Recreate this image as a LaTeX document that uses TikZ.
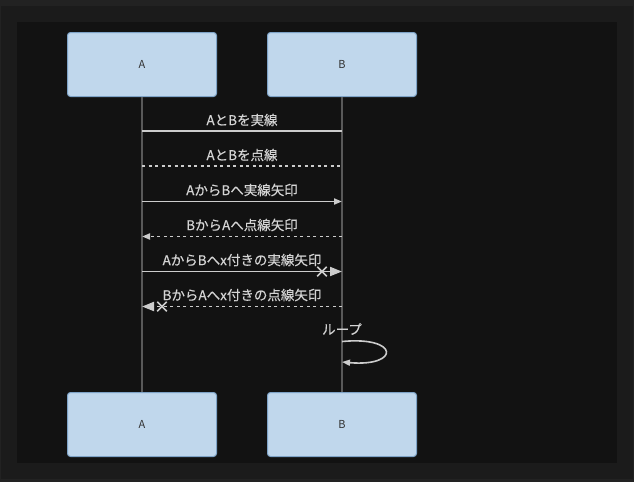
\documentclass[tikz,border=0pt]{standalone}
\usepackage{fontspec}
\setmainfont{Noto Sans CJK JP}
\newfontfamily\lblfont[FakeBold=0.35]{Noto Sans CJK JP}
\usetikzlibrary{arrows.meta,shapes.misc}
\definecolor{outerbg}{HTML}{222222}
\definecolor{panelbg}{HTML}{1B1B1B}
\definecolor{innerbg}{HTML}{121212}
\definecolor{boxfill}{HTML}{C0D7EC}
\definecolor{boxdraw}{HTML}{7EA3C7}
\definecolor{lifecol}{HTML}{595959}
\definecolor{msgcol}{HTML}{CCCCCC}
\definecolor{txtcol}{HTML}{D4D4D4}
\tikzset{
  actor/.style={draw=boxdraw, line width=1pt, fill=boxfill, rounded corners=3pt,
    minimum width=149pt, minimum height=64pt, inner sep=0pt,
    font=\fontsize{11}{13}\selectfont, text=black!80},
  lifeline/.style={draw=lifecol, line width=1.4pt},
  msg/.style={draw=msgcol, line width=1.8pt},
  dotmsg/.style={msg, dash pattern=on 3pt off 3.5pt},
  tipsmall/.style={-{Triangle[length=8pt,width=6pt]}},
  tipbig/.style={-{Triangle[length=12pt,width=9pt]}},
  msglabel/.style={text=txtcol, font=\lblfont\fontsize{13.5}{15}\selectfont, inner sep=0pt},
  crossmark/.style={cross out, draw=msgcol, line width=1.5pt, minimum size=8pt, inner sep=0pt},
}
\begin{document}
\begin{tikzpicture}[x=1pt,y=-1pt]
\useasboundingbox (0,0) rectangle (634,482);
\fill[outerbg] (0,0) rectangle (634,482);
\fill[panelbg] (1,6) rectangle (633,479);
\fill[innerbg] (17,22) rectangle (617,463);

\node[actor] (At) at (142,64.5) {A};
\node[actor] (Bt) at (342,64.5) {B};
\node[actor] (Ab) at (142,424.5) {A};
\node[actor] (Bb) at (342,424.5) {B};

\draw[lifeline] (At.south) -- (Ab.north);
\draw[lifeline] (Bt.south) -- (Bb.north);

% message coordinates on lifelines
\foreach \i/\y in {1/131,2/166,3/201.5,4/236.5,5/271.5,6/306.5} {
  \coordinate (a\i) at (142,\y);
  \coordinate (b\i) at (342,\y);
}
\coordinate (l1) at (342,341.5);
\coordinate (l2) at (342,362);

\draw[msg] (a1) -- (b1);
\node[msglabel] (t1) at (242,120) {AとBを実線};

\draw[dotmsg] (a2) -- (b2);
\node[msglabel] (t2) at (242,155) {AとBを点線};

\draw[msg,tipsmall] (a3) -- (b3);
\node[msglabel] (t3) at (242,190) {AからBへ実線矢印};

\draw[dotmsg,tipsmall] (b4) -- (a4);
\node[msglabel] (t4) at (242,225) {BからAへ点線矢印};

\draw[msg,tipbig] (a5) -- (b5);
\node[crossmark] (x5) at (322,271.5) {};
\node[msglabel] (t5) at (242,260) {AからBへx付きの実線矢印};

\draw[dotmsg,tipbig] (b6) -- (a6);
\node[crossmark] (x6) at (162,306.5) {};
\node[msglabel] (t6) at (242,295) {BからAへx付きの点線矢印};

\draw[msg,line width=1.6pt,tipsmall] (l1) .. controls (400,336) and (400,367) .. (l2);
\node[msglabel] (t7) at (342,329) {ループ};
\end{tikzpicture}
\end{document}
